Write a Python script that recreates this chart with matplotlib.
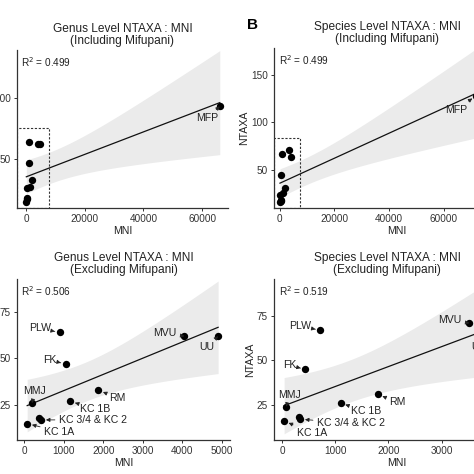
import numpy as np
import matplotlib
matplotlib.use("Agg")
import matplotlib.pyplot as plt
from matplotlib.patches import Rectangle

plt.rcParams['font.family'] = ['Liberation Sans', 'DejaVu Sans']

sites = ["PLW", "FK", "MVU", "UU", "MMJ", "RM", "KC 1B", "KC 3/4", "KC 2", "KC 1A"]
genus_mni = [900, 1050, 4050, 4900, 200, 1880, 1170, 370, 430, 80]
genus_ntaxa = [64, 47, 62, 62, 26, 33, 27, 18, 17, 15]
species_mni = [720, 440, 3520, 3900, 80, 1800, 1100, 320, 340, 40]
species_ntaxa = [67, 45, 71, 64, 24, 31, 26, 18, 17, 16]
mfp_genus = (66000, 93)
mfp_species = (72000, 128)
r2_labels = ["0.499", "0.499", "0.506", "0.519"]
titles = ["Genus Level NTAXA : MNI\n(Including Mifupani)",
          "Species Level NTAXA : MNI\n(Including Mifupani)",
          "Genus Level NTAXA : MNI\n(Excluding Mifupani)",
          "Species Level NTAXA : MNI\n(Excluding Mifupani)"]

W = 474.0
fig = plt.figure(figsize=(4.74, 4.74), dpi=100)
FS = 7.6

def ax_at(l, t, r, b):
    return fig.add_axes([l / W, 1 - b / W, (r - l) / W, (b - t) / W])

def style(ax):
    for s in ["top", "right"]:
        ax.spines[s].set_visible(False)
    for s in ["left", "bottom"]:
        ax.spines[s].set_color("#333333")
        ax.spines[s].set_linewidth(0.9)
    ax.tick_params(labelsize=7.2, colors="#333333", length=2.5, width=0.7, pad=2)
    ax.set_xlabel("MNI", fontsize=FS, color="#222222", labelpad=1)

def fit(ax, x, y):
    x = np.asarray(x, float); y = np.asarray(y, float)
    n = len(x)
    b, a = np.polyfit(x, y, 1)
    res = y - (a + b * x)
    s = np.sqrt(np.sum(res ** 2) / (n - 2))
    xs = np.linspace(x.min(), x.max(), 200)
    se = s * np.sqrt(1 / n + (xs - x.mean()) ** 2 / np.sum((x - x.mean()) ** 2))
    tv = {9: 2.262, 10: 2.228, 8: 2.306}.get(n - 2, 2.2)
    yh = a + b * xs
    ax.fill_between(xs, yh - tv * se, yh + tv * se, color="#ebebeb", lw=0, zorder=1)
    ax.plot(xs, yh, color="#111111", lw=0.9, zorder=2)

def pts(ax, x, y):
    ax.scatter(x, y, s=28, color="black", zorder=3, lw=0)

def lab(ax, text, xy, d, ha):
    ax.annotate(text, xy=xy, xytext=d, textcoords="offset pixels", ha=ha, va="center",
                fontsize=FS, color="#222222",
                arrowprops=dict(arrowstyle="-|>,head_length=0.3,head_width=0.15",
                                color="#222222", lw=0.6, shrinkA=1, shrinkB=3.5))

def r2(ax, v):
    ax.text(0.02, 0.97, "R$^2$ = " + v, transform=ax.transAxes, fontsize=7.2,
            va="top", ha="left", color="#222222")

def title(ax, t, x=0.5):
    ax.set_title(t, fontsize=8.6, color="#222222", pad=4, linespacing=1.05, x=x)

# Top-left
ax1 = ax_at(17, 50, 228, 208)
style(ax1)
gx = genus_mni + [mfp_genus[0]]; gy = genus_ntaxa + [mfp_genus[1]]
fit(ax1, gx, gy); pts(ax1, gx, gy)
ax1.set_xlim(-3100, 68800); ax1.set_ylim(10, 139)
ax1.set_xticks([0, 20000, 40000, 60000]); ax1.set_yticks([50, 100])
ax1.add_patch(Rectangle((-3100, 10), 10900, 65.4, fill=False, ls=(0, (2, 1.5)), lw=0.8,
                        color="#333333", zorder=2))
lab(ax1, "MFP", mfp_genus, (-13, -12), "center")
r2(ax1, r2_labels[0])
title(ax1, titles[0])

# Top-right
ax2 = ax_at(274, 48, 520, 208)
style(ax2)
sx = species_mni + [mfp_species[0]]; sy = species_ntaxa + [mfp_species[1]]
fit(ax2, sx, sy); pts(ax2, sx, sy)
ax2.set_xlim(-2150, 88000); ax2.set_ylim(10, 178)
ax2.set_xticks([0, 20000, 40000, 60000]); ax2.set_yticks([50, 100, 150])
ax2.add_patch(Rectangle((-2150, 10), 9650, 74, fill=False, ls=(0, (2, 1.5)), lw=0.8,
                        color="#333333", zorder=2))
lab(ax2, "MFP", mfp_species, (-20, -14), "center")
r2(ax2, r2_labels[1])
ax2.set_ylabel("NTAXA", fontsize=FS, color="#222222", labelpad=1)
title(ax2, titles[1], 0.46)
fig.text(247 / W, 1 - 25 / W, "B", fontsize=11, fontweight="bold", va="center")

# Bottom-left
genus_off = [(-9, 4), (-9, 4), (-8, 3), (-11, -11), (3, 12), (11, -8), (10, -8),
             (None, None), (18, 0), (17, -8)]
species_off = [(-9, 4), (-9, 4), (-8, 3), (-11, -11), (3, 12), (11, -8), (10, -8),
               (None, None), (17, -4), (13, -12)]
label_ha = ["right", "right", "right", "center", "center", "left", "left", "left", "left", "left"]
ax3 = ax_at(17, 279, 230, 440)
style(ax3)
fit(ax3, genus_mni, genus_ntaxa); pts(ax3, genus_mni, genus_ntaxa)
ax3.set_xlim(-177, 5200); ax3.set_ylim(6.2, 92.7)
ax3.set_xticks([0, 1000, 2000, 3000, 4000, 5000]); ax3.set_yticks([25, 50, 75])
for i, s in enumerate(sites):
    if s == "KC 3/4":
        continue
    t = "KC 3/4 & KC 2" if s == "KC 2" else s
    lab(ax3, t, (genus_mni[i], genus_ntaxa[i]), genus_off[i], label_ha[i])
r2(ax3, r2_labels[2])
title(ax3, titles[2])

# Bottom-right
ax4 = ax_at(274, 279, 520, 440)
style(ax4)
fit(ax4, species_mni, species_ntaxa); pts(ax4, species_mni, species_ntaxa)
ax4.set_xlim(-150, 4470); ax4.set_ylim(5.3, 95.8)
ax4.set_xticks([0, 1000, 2000, 3000, 4000]); ax4.set_yticks([25, 50, 75])
for i, s in enumerate(sites):
    if s == "KC 3/4":
        continue
    t = "KC 3/4 & KC 2" if s == "KC 2" else s
    lab(ax4, t, (species_mni[i], species_ntaxa[i]), species_off[i], label_ha[i])
r2(ax4, r2_labels[3])
ax4.set_ylabel("NTAXA", fontsize=FS, color="#222222", labelpad=1)
title(ax4, titles[3], 0.46)

fig.savefig("out.png", dpi=100)
